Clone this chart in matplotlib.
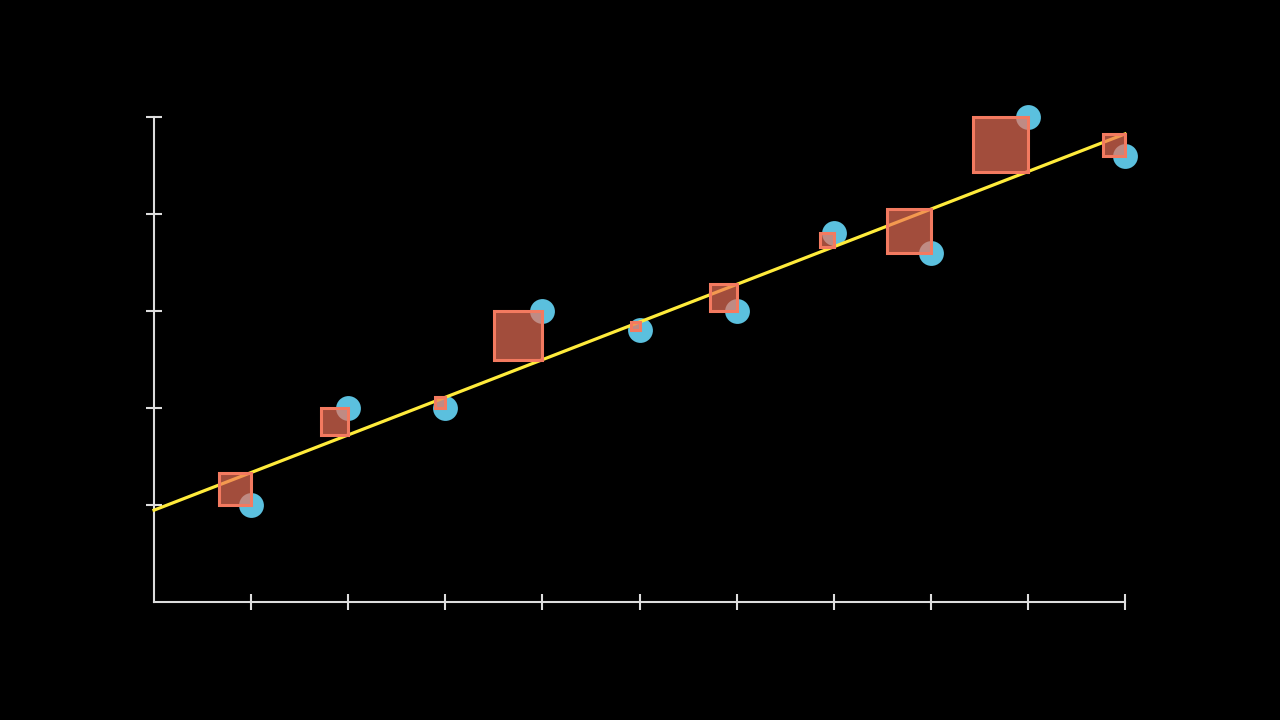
import numpy as np
import matplotlib.pyplot as plt
from matplotlib.patches import Rectangle

x = np.array([1, 2, 3, 4, 5, 6, 7, 8, 9, 10])
y = np.array([1.0, 2.0, 2.0, 3.0, 2.8, 3.0, 3.8, 3.6, 5.0, 4.6])

slope, intercept = np.polyfit(x, y, 1)
y_hat = slope * x + intercept

fig = plt.figure(figsize=(12.8, 7.2), dpi=100, facecolor='black')
ax = fig.add_axes([154 / 1280, 1 - 602 / 720, (1125 - 154) / 1280, (602 - 117) / 720])
ax.set_facecolor('black')

# points
ax.scatter(x, y, s=320, color='#5bc0de', zorder=2, clip_on=False, linewidths=0)

# regression line
xs = np.array([0, 10])
ax.plot(xs, slope * xs + intercept, color='#ffeb3b', lw=2.3, zorder=3, clip_on=False)

# squared residuals
for xi, yi, yh in zip(x, y, y_hat):
    r = abs(yi - yh)
    ax.add_patch(Rectangle((xi - r, min(yi, yh)), r, r,
                           facecolor=(0.94, 0.45, 0.35, 0.68),
                           edgecolor='#f37a60', lw=2.2, zorder=4, clip_on=False))

ax.set_xlim(0, 10)
ax.set_ylim(0, 5)
ax.set_xticks(range(1, 11))
ax.set_yticks(range(1, 6))
ax.set_xticklabels([])
ax.set_yticklabels([])
for side in ['top', 'right']:
    ax.spines[side].set_visible(False)
for side in ['left', 'bottom']:
    ax.spines[side].set_color('#dddddd')
    ax.spines[side].set_linewidth(1.5)
ax.tick_params(colors='#dddddd', direction='inout', length=11.5, width=1.5)

fig.savefig('out.png', facecolor='black')
